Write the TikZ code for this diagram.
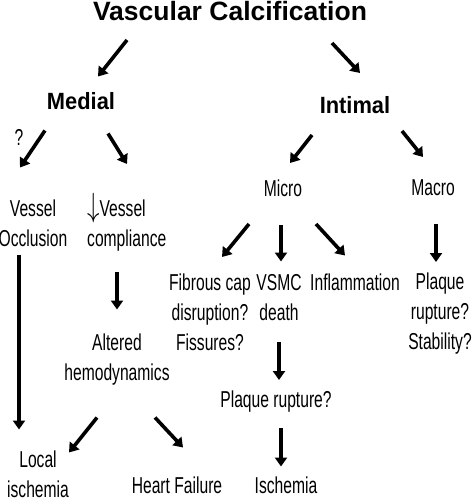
\documentclass[tikz,border=0pt]{standalone}
\usepackage{fontspec}
\setmainfont{Liberation Sans}[FakeStretch=0.68]
\newfontfamily\headfont{Liberation Sans}[FakeStretch=0.93]
\newfontfamily\titlefont{Liberation Sans}
\usepackage{tikz}
\usetikzlibrary{calc,arrows.meta}
\tikzset{
  arr/.style={ % thick black arrow with a solid head
    line width=3.6pt,
    -{Triangle[length=9pt,width=12pt]}
  },
  head/.style={ % bold heading
    font=\headfont\bfseries\fontsize{23.5}{28}\selectfont,
    inner sep=0pt, text=black
  },
  lbl/.style={ % plain condensed label
    font=\fontsize{23}{30}\selectfont,
    align=center, inner sep=0pt, text=black
  }
}

\begin{document}
\begin{tikzpicture}[
      x=1pt, y=-1pt
    ]
    \useasboundingbox (0,0) rectangle (474,498);

    \node[head,font=\titlefont\bfseries\fontsize{26.5}{30}\selectfont] (vc) at (230,11) {Vascular Calcification};
    \node[head] (medial) at (81,101.5) {Medial};
    \node[head] (intimal) at (355,105) {Intimal};
    \node[lbl] (q_label) at (19,137) {?};

    \node[lbl] (occlusion) at (33,223.5) {Vessel\\Occlusion};
    \node[lbl,align=left,anchor=west] (compliance) at (87,222) {\scalebox{1}[1.35]{$\downarrow$}Vessel\\compliance};
    \node[lbl] (altered) at (117,359.5) {Altered\\hemodynamics};
    \node[lbl] (local) at (38,474.5) {Local\\ischemia};
    \node[lbl] (heart) at (177,485.5) {Heart Failure};

    \node[lbl] (micro) at (283,188) {Micro};
    \node[lbl] (macro) at (433,188) {Macro};
    \node[lbl] (fibrous) at (210,312) {Fibrous cap\\disruption?\\Fissures?};
    \node[lbl] (vsmc) at (279,297.5) {VSMC\\death};
    \node[lbl] (inflam) at (355,282.5) {Inflammation};
    \node[lbl] (plaque_macro) at (440,314) {Plaque\\rupture?\\Stability?};
    \node[lbl] (plaque_micro) at (276,402) {Plaque rupture?};
    \node[lbl] (ischemia) at (286,485.5) {Ischemia};

    \draw[arr] ($(vc)+(-103,29)$) -- ($(medial)+(17,-25)$);
    \draw[arr] ($(vc)+(102,32)$) -- ($(intimal)+(5,-32)$);
    \draw[arr] ($(medial)+(-36,29)$) -- ($(occlusion)+(-13,-56)$);
    \draw[arr] ($(medial)+(27,32)$) -- ($(compliance.west)+(40,-58)$);
    \draw[arr] ($(intimal)+(-43,30)$) -- ($(micro)+(7,-25)$);
    \draw[arr] ($(intimal)+(47,26)$) -- ($(macro)+(-10,-31)$);

    \draw[arr] ($(micro)+(-34,36)$) -- ($(fibrous)+(12,-55)$);
    \draw[arr] ($(micro)+(-2,37)$) -- ($(vsmc)+(2,-36)$);
    \draw[arr] ($(micro)+(33,36)$) -- ($(inflam)+(-10,-27)$);
    \draw[arr] ($(macro)+(3,36)$) -- ($(plaque_macro)+(-4,-52)$);

    \draw[arr] ($(occlusion)+(-14,31)$) -- ($(local)+(-19,-45)$);
    \draw[arr] ($(compliance.west)+(30,50)$) -- ($(altered)+(0,-50)$);
    \draw[arr] ($(altered)+(-20,58)$) -- ($(local)+(31,-22)$);
    \draw[arr] ($(altered)+(38,58)$) -- ($(heart)+(6,-38)$);
    \draw[arr] ($(vsmc)+(0,44)$) -- ($(plaque_micro)+(3,-22)$);
    \draw[arr] ($(plaque_micro)+(5,26)$) -- ($(ischemia)+(-5,-19)$);
  \end{tikzpicture}
\end{document}
